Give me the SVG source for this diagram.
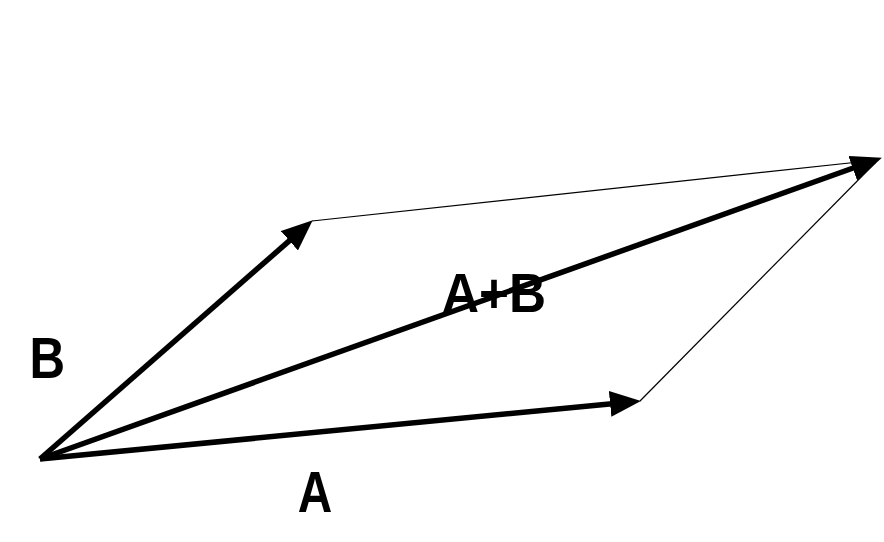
<svg xmlns="http://www.w3.org/2000/svg" width="884" height="542" viewBox="0 0 884 542">
<style>
.thick{stroke:#000;stroke-width:5.5;fill:none;marker-end:url(#head)}
.thin{stroke:#000;stroke-width:1.2;fill:none}
.lbl{font-family:"Liberation Sans",Arial,sans-serif;font-weight:bold;fill:#000}
</style>
<defs>
<marker id="head" viewBox="0 0 31 26" markerWidth="31" markerHeight="26" refX="2" refY="13" orient="auto" markerUnits="userSpaceOnUse">
<path d="M0,0 L31,13 L0,26 z" fill="#000"/>
</marker>
</defs>
<rect width="884" height="542" fill="#fff"/>
<g id="connectors">
<line class="thin" x1="312" y1="221" x2="868" y2="161"/>
<line class="thin" x1="640" y1="401" x2="876" y2="162"/>
<line class="thick" x1="40" y1="459" x2="612.1" y2="403.7"/>
<line class="thick" x1="40" y1="459" x2="290.9" y2="239.4"/>
<line class="thick" x1="40" y1="459" x2="854.6" y2="167.5"/>
</g>
<g id="label-B"><text class="lbl" x="29.5" y="378" font-size="57" textLength="35.6" lengthAdjust="spacingAndGlyphs">B</text></g>
<g id="label-A"><text class="lbl" x="297.7" y="512" font-size="58" textLength="34.5" lengthAdjust="spacingAndGlyphs">A</text></g>
<g id="label-AB"><text class="lbl" x="442" y="312" font-size="56" textLength="104" lengthAdjust="spacingAndGlyphs">A+B</text></g>
</svg>
